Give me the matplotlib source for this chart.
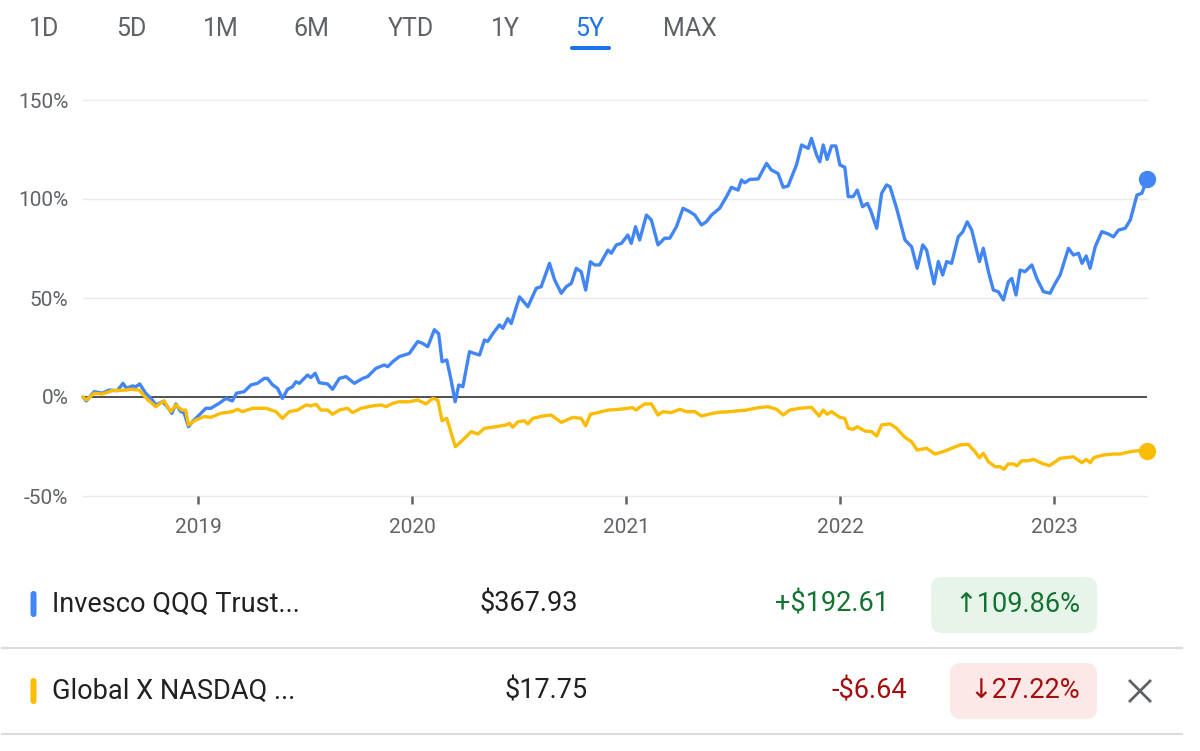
import matplotlib
matplotlib.use("Agg")
import matplotlib.pyplot as plt
from matplotlib.patches import FancyBboxPatch
import numpy as np

plt.rcParams['font.family'] = ['Roboto', 'DejaVu Sans']

# ---------------- data ----------------
tabs = ["1D", "5D", "1M", "6M", "YTD", "1Y", "5Y", "MAX"]
selected_tab = "5Y"

year_ticks = [2019, 2020, 2021, 2022, 2023]
y_ticks = [-50, 0, 50, 100, 150]

qqq_t = [2018.462, 2018.477, 2018.514, 2018.552, 2018.584, 2018.622, 2018.649, 2018.665, 2018.693, 2018.709,
         2018.727, 2018.755, 2018.786, 2018.802, 2018.833, 2018.856, 2018.877, 2018.896, 2018.919, 2018.934,
         2018.955, 2018.973, 2019.005, 2019.036, 2019.059, 2019.098, 2019.130, 2019.160, 2019.179, 2019.215,
         2019.247, 2019.277, 2019.309, 2019.324, 2019.348, 2019.371, 2019.394, 2019.418, 2019.441, 2019.457,
         2019.473, 2019.511, 2019.527, 2019.547, 2019.566, 2019.605, 2019.628, 2019.660, 2019.691, 2019.730,
         2019.769, 2019.792, 2019.831, 2019.870, 2019.886, 2019.909, 2019.940, 2019.987, 2020.026, 2020.049,
         2020.073, 2020.104, 2020.124, 2020.140, 2020.162, 2020.182, 2020.201, 2020.218, 2020.237, 2020.268,
         2020.291, 2020.315, 2020.338, 2020.353, 2020.377, 2020.408, 2020.424, 2020.447, 2020.463, 2020.502,
         2020.541, 2020.580, 2020.603, 2020.642, 2020.666, 2020.697, 2020.720, 2020.744, 2020.767, 2020.790,
         2020.811, 2020.833, 2020.853, 2020.876, 2020.915, 2020.931, 2020.954, 2020.978, 2021.008, 2021.024,
         2021.044, 2021.063, 2021.095, 2021.118, 2021.149, 2021.180, 2021.204, 2021.235, 2021.266, 2021.297,
         2021.321, 2021.352, 2021.375, 2021.399, 2021.437, 2021.469, 2021.492, 2021.523, 2021.539, 2021.554,
         2021.578, 2021.617, 2021.656, 2021.679, 2021.710, 2021.734, 2021.757, 2021.780, 2021.796, 2021.820,
         2021.835, 2021.851, 2021.866, 2021.890, 2021.905, 2021.921, 2021.939, 2021.960, 2021.980, 2021.999,
         2022.022, 2022.038, 2022.061, 2022.080, 2022.105, 2022.127, 2022.142, 2022.171, 2022.194, 2022.217,
         2022.233, 2022.264, 2022.303, 2022.334, 2022.360, 2022.386, 2022.404, 2022.439, 2022.459, 2022.479,
         2022.498, 2022.521, 2022.552, 2022.573, 2022.594, 2022.615, 2022.651, 2022.669, 2022.693, 2022.716,
         2022.739, 2022.763, 2022.786, 2022.802, 2022.822, 2022.841, 2022.864, 2022.896, 2022.919, 2022.950,
         2022.981, 2023.005, 2023.028, 2023.067, 2023.090, 2023.114, 2023.130, 2023.150, 2023.168, 2023.192,
         2023.223, 2023.254, 2023.277, 2023.301, 2023.332, 2023.356, 2023.387, 2023.410, 2023.434]
qqq_pct = [0, -2, 2.7, 1.9, 3.5, 3.2, 6.9, 4.4, 5.6, 5.2,
           6.6, 1.9, -1.5, -4, -2.4, -4.9, -8.3, -3.5, -7.4, -7.9,
           -15, -12.5, -9.1, -5.7, -5.7, -3.2, -0.7, -2, 1.9, 2.7,
           6.1, 6.9, 9.4, 9.4, 6.1, 4.4, -0.7, 3.9, 5.2, 7.7,
           6.9, 11.1, 9.8, 12, 7.2, 6.6, 3.9, 9.4, 10.3, 6.9,
           9.4, 10.3, 14.5, 16.2, 15.3, 17.8, 20.4, 22, 28, 27.1,
           25.4, 34, 32, 17.8, 18.7, 8.6, -2.4, 6.1, 5.2, 22.9,
           22, 21.2, 28.8, 28, 32, 36.4, 34.7, 39.6, 37.1, 50.6,
           45.6, 54.9, 55.7, 67.5, 59.1, 52.4, 55.7, 57.4, 65, 63.3,
           54, 68.3, 66.7, 66.7, 74.2, 72.6, 76.8, 77.6, 81.8, 77.6,
           86, 79.3, 91.9, 89.4, 76.8, 80.2, 80.2, 86, 95.3, 93.6,
           91.9, 86.9, 88.5, 91.9, 95.3, 101.2, 105.9, 104.5, 109.6, 108.2,
           109.9, 110.1, 118, 114.6, 112.9, 105.9, 106.6, 112.9, 117.2, 127.3,
           126.4, 125.6, 130.6, 122.2, 118.8, 127.3, 120, 126.8, 126.8, 117.2,
           116, 101.2, 101.2, 104.5, 96.1, 97.8, 94.4, 85.2, 102.9, 107.1,
           106.2, 95.3, 79.3, 75.9, 65, 76.8, 74.2, 57.1, 68.4, 61.6,
           68.4, 67.5, 80.9, 83.4, 88.5, 84.3, 68.4, 75.1, 63.3, 54,
           53.2, 49, 58.2, 59.9, 51.5, 64.1, 63.3, 66.7, 59.9, 53.2,
           52.4, 57.4, 61.6, 75.1, 71.7, 72.6, 67.5, 71.2, 65, 75.9,
           83.5, 82.3, 80.9, 84.3, 85.2, 89.4, 102, 102.9, 109.86]

qqqm_t = [2018.462, 2018.477, 2018.514, 2018.552, 2018.599, 2018.662, 2018.685, 2018.724, 2018.763, 2018.802,
          2018.841, 2018.872, 2018.896, 2018.924, 2018.942, 2018.955, 2018.989, 2019.028, 2019.059, 2019.106,
          2019.160, 2019.184, 2019.207, 2019.254, 2019.317, 2019.364, 2019.394, 2019.426, 2019.465, 2019.504,
          2019.527, 2019.551, 2019.574, 2019.605, 2019.628, 2019.660, 2019.698, 2019.722, 2019.761, 2019.815,
          2019.855, 2019.878, 2019.909, 2019.940, 2019.987, 2020.026, 2020.065, 2020.096, 2020.120, 2020.140,
          2020.162, 2020.202, 2020.237, 2020.276, 2020.307, 2020.338, 2020.393, 2020.440, 2020.455, 2020.470,
          2020.494, 2020.525, 2020.541, 2020.564, 2020.611, 2020.650, 2020.697, 2020.751, 2020.790, 2020.811,
          2020.833, 2020.868, 2020.915, 2020.970, 2021.008, 2021.029, 2021.048, 2021.063, 2021.087, 2021.118,
          2021.149, 2021.172, 2021.211, 2021.250, 2021.282, 2021.321, 2021.352, 2021.406, 2021.437, 2021.484,
          2021.562, 2021.617, 2021.663, 2021.703, 2021.734, 2021.765, 2021.812, 2021.866, 2021.902, 2021.921,
          2021.939, 2021.960, 2021.999, 2022.022, 2022.038, 2022.061, 2022.080, 2022.116, 2022.147, 2022.171,
          2022.194, 2022.233, 2022.264, 2022.303, 2022.334, 2022.360, 2022.404, 2022.443, 2022.482, 2022.521,
          2022.560, 2022.599, 2022.630, 2022.651, 2022.669, 2022.693, 2022.724, 2022.747, 2022.766, 2022.786,
          2022.810, 2022.826, 2022.849, 2022.880, 2022.903, 2022.943, 2022.978, 2023.028, 2023.090, 2023.130,
          2023.150, 2023.168, 2023.187, 2023.231, 2023.277, 2023.309, 2023.356, 2023.394, 2023.434]
qqqm_pct = [0, -1.5, 1.9, 1.5, 3.2, 3.5, 3.9, 3.5, -1.2, -4.9,
            -1.9, -7.4, -4, -6.6, -6.6, -14.1, -11.6, -9.9, -10.3, -8.2,
            -7.4, -6.2, -7.4, -5.7, -5.7, -7.4, -10.8, -7.4, -6.6, -4,
            -4.5, -3.7, -6.6, -6.6, -8.7, -6.6, -5.7, -7.9, -5.7, -4.5,
            -4, -4.9, -3.2, -2.4, -2.4, -1.5, -3.5, -0.7, -1.5, -12,
            -10.8, -25.1, -21.7, -17.5, -18.7, -15.8, -15, -14.1, -13.3, -15.3,
            -12.5, -12, -13.6, -10.8, -9.6, -9.1, -12.8, -10.3, -10.8, -14.6,
            -8.7, -7.9, -6.6, -6.2, -5.7, -5.4, -6.6, -5.2, -3.5, -3.5,
            -9.1, -7.4, -7.9, -6.2, -7.4, -7.4, -9.6, -8.2, -7.7, -7.4,
            -6.6, -5.4, -4.9, -6.2, -9.1, -6.6, -5.7, -5.2, -9.6, -6.6,
            -8.7, -7.4, -10.3, -10.8, -15.8, -16.3, -15, -17.2, -17.5, -19.7,
            -14.1, -13.6, -15.8, -20.4, -22.6, -26.8, -25.9, -28.8, -27.6, -25.9,
            -24.2, -23.9, -27.6, -30.7, -28.4, -32.7, -35.2, -35.2, -36.5, -33.8,
            -33.8, -34.8, -32.2, -32.2, -31.5, -33.5, -34.7, -31, -30.2, -33.2,
            -31.5, -33.2, -30.5, -29.3, -28.8, -28.8, -27.6, -27.1, -27.22]

names = ["Invesco QQQ Trust...", "Global X NASDAQ ..."]
prices = ["$367.93", "$17.75"]
changes = ["+$192.61", "-$6.64"]
pct_changes = ["↑109.86%", "↓27.22%"]

# ---------------- style ----------------
BLUE = "#4285f4"
YELLOW = "#fbbc04"
GRAY = "#5f6368"
DARK = "#202124"
GRID = "#e8eaed"
GREEN_T, GREEN_BG = "#137333", "#e6f4ea"
RED_T, RED_BG = "#a50e0e", "#fce8e6"
series_colors = [BLUE, YELLOW]

W, H = 1200, 751
fig = plt.figure(figsize=(W / 100, H / 100), dpi=100)

def fx(px):
    return px / W

def fy(py):
    return 1 - py / H

# main chart axes (pixel frame 83..1147 x 100..496)
ax = fig.add_axes([fx(83), fy(496), fx(1147 - 83), (496 - 100) / H])
ax.set_xlim(qqq_t[0], qqq_t[-1])
ax.set_ylim(-50, 150)
for s in ax.spines.values():
    s.set_visible(False)

for v in y_ticks:
    if v != 0:
        ax.axhline(v, color=GRID, lw=1.0, zorder=0, clip_on=False)
ax.axhline(0, color=DARK, lw=1.1, zorder=1)

ax.plot(qqq_t, qqq_pct, color=BLUE, lw=2.4, solid_joinstyle='round', solid_capstyle='round', zorder=3, clip_on=False)
ax.plot(qqqm_t, qqqm_pct, color=YELLOW, lw=2.4, solid_joinstyle='round', solid_capstyle='round', zorder=4, clip_on=False)
ax.plot([qqq_t[-1]], [qqq_pct[-1]], 'o', color=BLUE, ms=12.5, mec='none', zorder=5, clip_on=False)
ax.plot([qqqm_t[-1]], [qqqm_pct[-1]], 'o', color=YELLOW, ms=12.5, mec='none', zorder=5, clip_on=False)

ax.set_yticks(y_ticks)
ax.set_yticklabels([f"{v}%" for v in y_ticks])
ax.tick_params(axis='y', length=0, pad=10.5, labelsize=15, labelcolor=GRAY)
ax.set_xticks(year_ticks)
ax.set_xticklabels([str(y) for y in year_ticks])
ax.tick_params(axis='x', length=6, width=1.8, color=GRAY, direction='out', pad=10, labelsize=15, labelcolor=GRAY)

# overlay in pixel coordinates
ov = fig.add_axes([0, 0, 1, 1])
ov.set_xlim(0, W)
ov.set_ylim(H, 0)
ov.axis('off')

tab_x = [44, 131.5, 221, 311, 410.5, 505.5, 589.5, 690]
for t, x in zip(tabs, tab_x):
    col = "#1a73e8" if t == selected_tab else GRAY
    ov.text(x, 29, t, ha='center', va='center', fontsize=18, color=col)
    if t == selected_tab:
        ov.add_patch(FancyBboxPatch((570, 46), 41, 4, boxstyle="round,pad=0,rounding_size=2",
                                    fc="#1a73e8", ec='none'))

FS = 19.5
row_y = [604, 691]
price_right = [578, 588]
change_right = [889, 907]
pill_x = [(931, 1097), (950, 1097)]
pill_y = [(577, 633), (663, 719)]
for i in range(2):
    y = row_y[i]
    ov.add_patch(FancyBboxPatch((30.5, y - 13), 6, 26, boxstyle="round,pad=0,rounding_size=3",
                                fc=series_colors[i], ec='none'))
    ov.text(52, y, names[i], ha='left', va='center', fontsize=FS, color=DARK)
    ov.text(price_right[i], y, prices[i], ha='right', va='center', fontsize=FS, color=DARK)
    up = i == 0
    tc, bc = (GREEN_T, GREEN_BG) if up else (RED_T, RED_BG)
    ov.text(change_right[i], y, changes[i], ha='right', va='center', fontsize=FS, color=tc)
    x0, x1 = pill_x[i]
    y0, y1 = pill_y[i]
    ov.add_patch(FancyBboxPatch((x0, y0), x1 - x0, y1 - y0, boxstyle="round,pad=0,rounding_size=11",
                                fc=bc, ec='none'))
    ov.text(1080, y, pct_changes[i], ha='right', va='center', fontsize=FS, color=tc)

# close (remove) icon
ov.plot([1129, 1151], [680, 702], color=GRAY, lw=2.0, solid_capstyle='butt')
ov.plot([1129, 1151], [702, 680], color=GRAY, lw=2.0, solid_capstyle='butt')

for sy in [648, 734]:
    ov.plot([2, 1182], [sy, sy], color="#dadce0", lw=1.5)

fig.savefig("out.png", dpi=100, facecolor='white')
